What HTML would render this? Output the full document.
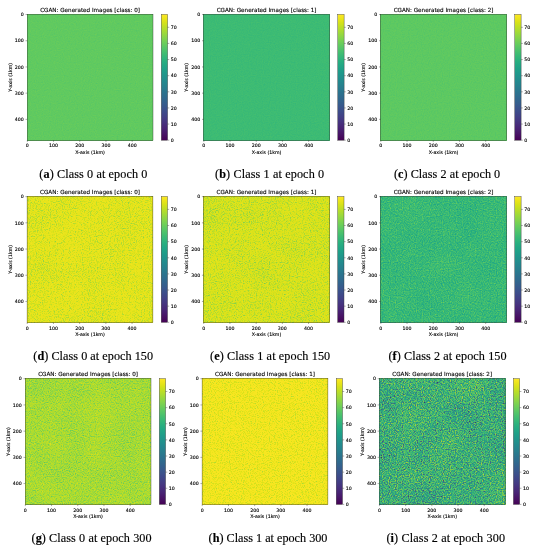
<!DOCTYPE html>
<html lang="en"><head><meta charset="utf-8"><title>CGAN generated images</title>
<style>
html,body{margin:0;padding:0;background:#fff;}
body{width:535px;height:550px;overflow:hidden;}
svg{display:block;}
.t{font-family:"DejaVu Sans","Liberation Sans",sans-serif;fill:#000;}
.t text{stroke:#000;stroke-width:0.12px;}
.ti{font-size:5.65px;text-anchor:middle;}
.tk{font-size:4.72px;}
.cap{font-family:"Liberation Serif","DejaVu Serif",serif;font-size:12.2px;fill:#000;stroke:#000;stroke-width:0.15px;}
.cap .b{font-weight:bold;}
</style></head><body>
<svg width="535" height="550" viewBox="0 0 535 550">
<defs>
<linearGradient id="vir" x1="0" y1="1" x2="0" y2="0">
<stop offset="0.0000" stop-color="#440154"/>
<stop offset="0.0312" stop-color="#470d60"/>
<stop offset="0.0625" stop-color="#48186a"/>
<stop offset="0.0938" stop-color="#482374"/>
<stop offset="0.1250" stop-color="#472d7b"/>
<stop offset="0.1562" stop-color="#453781"/>
<stop offset="0.1875" stop-color="#424086"/>
<stop offset="0.2188" stop-color="#3e4989"/>
<stop offset="0.2500" stop-color="#3b528b"/>
<stop offset="0.2812" stop-color="#375b8d"/>
<stop offset="0.3125" stop-color="#33638d"/>
<stop offset="0.3438" stop-color="#2f6b8e"/>
<stop offset="0.3750" stop-color="#2c728e"/>
<stop offset="0.4062" stop-color="#297a8e"/>
<stop offset="0.4375" stop-color="#26828e"/>
<stop offset="0.4688" stop-color="#23898e"/>
<stop offset="0.5000" stop-color="#21918c"/>
<stop offset="0.5312" stop-color="#1f988b"/>
<stop offset="0.5625" stop-color="#1fa088"/>
<stop offset="0.5938" stop-color="#22a785"/>
<stop offset="0.6250" stop-color="#28ae80"/>
<stop offset="0.6562" stop-color="#32b67a"/>
<stop offset="0.6875" stop-color="#3fbc73"/>
<stop offset="0.7188" stop-color="#4ec36b"/>
<stop offset="0.7500" stop-color="#5ec962"/>
<stop offset="0.7812" stop-color="#70cf57"/>
<stop offset="0.8125" stop-color="#84d44b"/>
<stop offset="0.8438" stop-color="#98d83e"/>
<stop offset="0.8750" stop-color="#addc30"/>
<stop offset="0.9062" stop-color="#c2df23"/>
<stop offset="0.9375" stop-color="#d8e219"/>
<stop offset="0.9688" stop-color="#ece51b"/>
<stop offset="1.0000" stop-color="#fde725"/>
</linearGradient>
<filter id="na" x="0" y="0" width="100%" height="100%" color-interpolation-filters="sRGB">
<feTurbulence type="fractalNoise" baseFrequency="0.85" numOctaves="2" seed="1"/>
<feColorMatrix type="matrix" values="1 0 0 0 0  1 0 0 0 0  1 0 0 0 0  0 0 0 0 1" result="h"/>
<feTurbulence type="fractalNoise" baseFrequency="0.035" numOctaves="2" seed="21"/>
<feColorMatrix type="matrix" values="1 0 0 0 0  1 0 0 0 0  1 0 0 0 0  0 0 0 0 1" result="l"/>
<feComposite in="h" in2="l" operator="arithmetic" k1="0" k2="1.000" k3="0.000" k4="0"/>
<feGaussianBlur stdDeviation="0.45"/>
<feComponentTransfer><feFuncA type="linear" slope="0" intercept="1"/><feFuncR type="table" tableValues="0.328 0.328 0.328 0.336 0.336 0.344 0.344 0.344 0.352 0.352 0.361 0.361 0.369 0.369 0.369 0.378 0.378 0.386 0.386 0.386 0.395 0.395 0.404 0.404 0.404 0.413 0.413 0.422 0.422 0.422 0.431 0.431 0.440"/><feFuncG type="table" tableValues="0.774 0.774 0.774 0.777 0.777 0.780 0.780 0.780 0.783 0.783 0.786 0.786 0.789 0.789 0.789 0.792 0.792 0.795 0.795 0.795 0.797 0.797 0.800 0.800 0.800 0.803 0.803 0.806 0.806 0.806 0.808 0.808 0.811"/><feFuncB type="table" tableValues="0.407 0.407 0.407 0.402 0.402 0.397 0.397 0.397 0.393 0.393 0.388 0.388 0.383 0.383 0.383 0.378 0.378 0.373 0.373 0.373 0.368 0.368 0.363 0.363 0.363 0.357 0.357 0.352 0.352 0.352 0.346 0.346 0.341"/></feComponentTransfer>
</filter>
<filter id="nb" x="0" y="0" width="100%" height="100%" color-interpolation-filters="sRGB">
<feTurbulence type="fractalNoise" baseFrequency="0.85" numOctaves="2" seed="2"/>
<feColorMatrix type="matrix" values="1 0 0 0 0  1 0 0 0 0  1 0 0 0 0  0 0 0 0 1" result="h"/>
<feTurbulence type="fractalNoise" baseFrequency="0.035" numOctaves="2" seed="22"/>
<feColorMatrix type="matrix" values="1 0 0 0 0  1 0 0 0 0  1 0 0 0 0  0 0 0 0 1" result="l"/>
<feComposite in="h" in2="l" operator="arithmetic" k1="0" k2="1.000" k3="0.000" k4="0"/>
<feGaussianBlur stdDeviation="0.45"/>
<feComponentTransfer><feFuncA type="linear" slope="0" intercept="1"/><feFuncR type="table" tableValues="0.202 0.202 0.202 0.208 0.208 0.214 0.214 0.214 0.220 0.220 0.226 0.226 0.226 0.233 0.233 0.239 0.239 0.246 0.246 0.246 0.253 0.253 0.260 0.260 0.260 0.267 0.267 0.274 0.274 0.274 0.281 0.281 0.289"/><feFuncG type="table" tableValues="0.715 0.715 0.715 0.719 0.719 0.722 0.722 0.722 0.726 0.726 0.729 0.729 0.729 0.732 0.732 0.736 0.736 0.739 0.739 0.739 0.742 0.742 0.745 0.745 0.745 0.749 0.749 0.752 0.752 0.752 0.755 0.755 0.758"/><feFuncB type="table" tableValues="0.476 0.476 0.476 0.473 0.473 0.470 0.470 0.470 0.466 0.466 0.463 0.463 0.463 0.459 0.459 0.456 0.456 0.452 0.452 0.452 0.448 0.448 0.444 0.444 0.444 0.441 0.441 0.437 0.437 0.437 0.433 0.433 0.428"/></feComponentTransfer>
</filter>
<filter id="nc" x="0" y="0" width="100%" height="100%" color-interpolation-filters="sRGB">
<feTurbulence type="fractalNoise" baseFrequency="0.85" numOctaves="2" seed="3"/>
<feColorMatrix type="matrix" values="1 0 0 0 0  1 0 0 0 0  1 0 0 0 0  0 0 0 0 1" result="h"/>
<feTurbulence type="fractalNoise" baseFrequency="0.035" numOctaves="2" seed="23"/>
<feColorMatrix type="matrix" values="1 0 0 0 0  1 0 0 0 0  1 0 0 0 0  0 0 0 0 1" result="l"/>
<feComposite in="h" in2="l" operator="arithmetic" k1="0" k2="1.000" k3="0.000" k4="0"/>
<feGaussianBlur stdDeviation="0.45"/>
<feComponentTransfer><feFuncA type="linear" slope="0" intercept="1"/><feFuncR type="table" tableValues="0.312 0.312 0.320 0.320 0.328 0.328 0.328 0.336 0.336 0.344 0.344 0.344 0.352 0.352 0.361 0.361 0.369 0.369 0.369 0.378 0.378 0.386 0.386 0.386 0.395 0.395 0.404 0.404 0.404 0.413 0.413 0.422 0.422"/><feFuncG type="table" tableValues="0.768 0.768 0.771 0.771 0.774 0.774 0.774 0.777 0.777 0.780 0.780 0.780 0.783 0.783 0.786 0.786 0.789 0.789 0.789 0.792 0.792 0.795 0.795 0.795 0.797 0.797 0.800 0.800 0.800 0.803 0.803 0.806 0.806"/><feFuncB type="table" tableValues="0.416 0.416 0.411 0.411 0.407 0.407 0.407 0.402 0.402 0.397 0.397 0.397 0.393 0.393 0.388 0.388 0.383 0.383 0.383 0.378 0.378 0.373 0.373 0.373 0.368 0.368 0.363 0.363 0.363 0.357 0.357 0.352 0.352"/></feComponentTransfer>
</filter>
<filter id="nd" x="0" y="0" width="100%" height="100%" color-interpolation-filters="sRGB">
<feTurbulence type="fractalNoise" baseFrequency="0.85" numOctaves="2" seed="4"/>
<feColorMatrix type="matrix" values="1 0 0 0 0  1 0 0 0 0  1 0 0 0 0  0 0 0 0 1" result="h"/>
<feTurbulence type="fractalNoise" baseFrequency="0.035" numOctaves="2" seed="24"/>
<feColorMatrix type="matrix" values="1 0 0 0 0  1 0 0 0 0  1 0 0 0 0  0 0 0 0 1" result="l"/>
<feComposite in="h" in2="l" operator="arithmetic" k1="0" k2="0.850" k3="0.150" k4="0"/>
<feGaussianBlur stdDeviation="0.45"/>
<feComponentTransfer><feFuncA type="linear" slope="0" intercept="1"/><feFuncR type="table" tableValues="0.402 0.423 0.447 0.473 0.501 0.525 0.555 0.588 0.621 0.656 0.691 0.728 0.764 0.801 0.838 0.873 0.908 0.908 0.915 0.915 0.922 0.929 0.929 0.935 0.942 0.942 0.949 0.949 0.955 0.955 0.955 0.955 0.955"/><feFuncG type="table" tableValues="0.767 0.779 0.791 0.802 0.813 0.821 0.831 0.840 0.849 0.856 0.864 0.870 0.876 0.881 0.886 0.891 0.895 0.895 0.896 0.896 0.897 0.898 0.898 0.898 0.899 0.899 0.900 0.900 0.901 0.901 0.901 0.901 0.901"/><feFuncB type="table" tableValues="0.370 0.358 0.345 0.330 0.315 0.301 0.283 0.263 0.242 0.220 0.197 0.174 0.150 0.128 0.111 0.103 0.109 0.109 0.112 0.112 0.115 0.119 0.119 0.123 0.127 0.127 0.132 0.132 0.137 0.137 0.137 0.137 0.137"/></feComponentTransfer>
</filter>
<filter id="ne" x="0" y="0" width="100%" height="100%" color-interpolation-filters="sRGB">
<feTurbulence type="fractalNoise" baseFrequency="0.85" numOctaves="2" seed="5"/>
<feColorMatrix type="matrix" values="1 0 0 0 0  1 0 0 0 0  1 0 0 0 0  0 0 0 0 1" result="h"/>
<feTurbulence type="fractalNoise" baseFrequency="0.035" numOctaves="2" seed="25"/>
<feColorMatrix type="matrix" values="1 0 0 0 0  1 0 0 0 0  1 0 0 0 0  0 0 0 0 1" result="l"/>
<feComposite in="h" in2="l" operator="arithmetic" k1="0" k2="0.850" k3="0.150" k4="0"/>
<feGaussianBlur stdDeviation="0.45"/>
<feComponentTransfer><feFuncA type="linear" slope="0" intercept="1"/><feFuncR type="table" tableValues="0.350 0.365 0.383 0.408 0.432 0.458 0.492 0.522 0.553 0.593 0.627 0.662 0.705 0.742 0.779 0.823 0.858 0.865 0.873 0.873 0.880 0.886 0.893 0.900 0.907 0.907 0.914 0.921 0.927 0.934 0.940 0.940 0.940"/><feFuncG type="table" tableValues="0.738 0.751 0.763 0.777 0.789 0.800 0.813 0.823 0.832 0.843 0.851 0.859 0.867 0.873 0.878 0.884 0.888 0.889 0.890 0.890 0.891 0.892 0.893 0.894 0.895 0.895 0.895 0.896 0.897 0.898 0.899 0.899 0.899"/><feFuncB type="table" tableValues="0.393 0.384 0.374 0.360 0.347 0.332 0.313 0.296 0.277 0.253 0.231 0.209 0.181 0.157 0.134 0.113 0.105 0.105 0.106 0.106 0.107 0.109 0.111 0.114 0.117 0.117 0.121 0.125 0.130 0.134 0.139 0.139 0.139"/></feComponentTransfer>
</filter>
<filter id="nf" x="0" y="0" width="100%" height="100%" color-interpolation-filters="sRGB">
<feTurbulence type="fractalNoise" baseFrequency="0.85" numOctaves="2" seed="6"/>
<feColorMatrix type="matrix" values="1 0 0 0 0  1 0 0 0 0  1 0 0 0 0  0 0 0 0 1" result="h"/>
<feTurbulence type="fractalNoise" baseFrequency="0.035" numOctaves="2" seed="26"/>
<feColorMatrix type="matrix" values="1 0 0 0 0  1 0 0 0 0  1 0 0 0 0  0 0 0 0 1" result="l"/>
<feComposite in="h" in2="l" operator="arithmetic" k1="0" k2="0.850" k3="0.150" k4="0"/>
<feGaussianBlur stdDeviation="0.45"/>
<feComponentTransfer><feFuncA type="linear" slope="0" intercept="1"/><feFuncR type="table" tableValues="0.126 0.123 0.122 0.120 0.119 0.120 0.121 0.125 0.128 0.135 0.143 0.150 0.162 0.176 0.186 0.202 0.220 0.233 0.253 0.274 0.289 0.312 0.336 0.352 0.378 0.404 0.422 0.449 0.478 0.497 0.526 0.555 0.576"/><feFuncG type="table" tableValues="0.571 0.582 0.589 0.600 0.611 0.618 0.629 0.640 0.648 0.659 0.669 0.677 0.687 0.698 0.705 0.715 0.726 0.732 0.742 0.752 0.758 0.768 0.777 0.783 0.792 0.800 0.806 0.814 0.821 0.826 0.833 0.840 0.845"/><feFuncB type="table" tableValues="0.550 0.547 0.546 0.543 0.539 0.536 0.532 0.527 0.523 0.518 0.511 0.507 0.499 0.491 0.485 0.476 0.466 0.459 0.448 0.437 0.428 0.416 0.402 0.393 0.378 0.363 0.352 0.335 0.318 0.306 0.288 0.269 0.256"/></feComponentTransfer>
</filter>
<filter id="ng" x="0" y="0" width="100%" height="100%" color-interpolation-filters="sRGB">
<feTurbulence type="fractalNoise" baseFrequency="0.85" numOctaves="2" seed="7"/>
<feColorMatrix type="matrix" values="1 0 0 0 0  1 0 0 0 0  1 0 0 0 0  0 0 0 0 1" result="h"/>
<feTurbulence type="fractalNoise" baseFrequency="0.035" numOctaves="2" seed="27"/>
<feColorMatrix type="matrix" values="1 0 0 0 0  1 0 0 0 0  1 0 0 0 0  0 0 0 0 1" result="l"/>
<feComposite in="h" in2="l" operator="arithmetic" k1="0" k2="0.850" k3="0.150" k4="0"/>
<feGaussianBlur stdDeviation="0.45"/>
<feComponentTransfer><feFuncA type="linear" slope="0" intercept="1"/><feFuncR type="table" tableValues="0.281 0.285 0.294 0.306 0.322 0.341 0.363 0.387 0.414 0.442 0.472 0.504 0.536 0.570 0.598 0.634 0.670 0.692 0.707 0.729 0.744 0.766 0.780 0.802 0.816 0.830 0.851 0.864 0.884 0.891 0.891 0.891 0.891"/><feFuncG type="table" tableValues="0.700 0.710 0.723 0.735 0.748 0.760 0.772 0.783 0.794 0.805 0.815 0.825 0.834 0.842 0.848 0.855 0.861 0.865 0.867 0.870 0.872 0.875 0.877 0.880 0.881 0.883 0.886 0.888 0.890 0.891 0.891 0.891 0.891"/><feFuncB type="table" tableValues="0.434 0.429 0.422 0.414 0.404 0.394 0.381 0.368 0.353 0.337 0.320 0.301 0.281 0.260 0.242 0.219 0.195 0.181 0.172 0.158 0.150 0.140 0.134 0.130 0.129 0.131 0.138 0.145 0.158 0.163 0.163 0.163 0.163"/></feComponentTransfer>
</filter>
<filter id="nh" x="0" y="0" width="100%" height="100%" color-interpolation-filters="sRGB">
<feTurbulence type="fractalNoise" baseFrequency="0.85" numOctaves="2" seed="8"/>
<feColorMatrix type="matrix" values="1 0 0 0 0  1 0 0 0 0  1 0 0 0 0  0 0 0 0 1" result="h"/>
<feTurbulence type="fractalNoise" baseFrequency="0.035" numOctaves="2" seed="28"/>
<feColorMatrix type="matrix" values="1 0 0 0 0  1 0 0 0 0  1 0 0 0 0  0 0 0 0 1" result="l"/>
<feComposite in="h" in2="l" operator="arithmetic" k1="0" k2="0.950" k3="0.050" k4="0"/>
<feGaussianBlur stdDeviation="0.45"/>
<feComponentTransfer><feFuncA type="linear" slope="0" intercept="1"/><feFuncR type="table" tableValues="0.538 0.561 0.583 0.615 0.639 0.663 0.687 0.721 0.746 0.771 0.804 0.829 0.854 0.879 0.911 0.935 0.958 0.966 0.966 0.966 0.973 0.973 0.981 0.981 0.981 0.981 0.981 0.981 0.981 0.981 0.981 0.981 0.981"/><feFuncG type="table" tableValues="0.829 0.835 0.841 0.848 0.854 0.859 0.863 0.869 0.873 0.877 0.882 0.885 0.888 0.891 0.895 0.898 0.901 0.902 0.902 0.902 0.903 0.903 0.905 0.905 0.905 0.905 0.905 0.905 0.905 0.905 0.905 0.905 0.905"/><feFuncB type="table" tableValues="0.297 0.283 0.269 0.250 0.234 0.219 0.203 0.181 0.165 0.149 0.129 0.116 0.106 0.101 0.103 0.111 0.123 0.128 0.128 0.128 0.134 0.134 0.139 0.139 0.139 0.139 0.139 0.139 0.139 0.139 0.139 0.139 0.139"/></feComponentTransfer>
</filter>
<filter id="ni" x="0" y="0" width="100%" height="100%" color-interpolation-filters="sRGB">
<feTurbulence type="fractalNoise" baseFrequency="0.85" numOctaves="2" seed="9"/>
<feColorMatrix type="matrix" values="1 0 0 0 0  1 0 0 0 0  1 0 0 0 0  0 0 0 0 1" result="h"/>
<feTurbulence type="fractalNoise" baseFrequency="0.035" numOctaves="2" seed="29"/>
<feColorMatrix type="matrix" values="1 0 0 0 0  1 0 0 0 0  1 0 0 0 0  0 0 0 0 1" result="l"/>
<feComposite in="h" in2="l" operator="arithmetic" k1="0" k2="0.850" k3="0.150" k4="0"/>
<feGaussianBlur stdDeviation="0.45"/>
<feComponentTransfer><feFuncA type="linear" slope="0" intercept="1"/><feFuncR type="table" tableValues="0.266 0.266 0.266 0.266 0.266 0.266 0.271 0.277 0.269 0.252 0.230 0.211 0.193 0.177 0.166 0.178 0.226 0.261 0.307 0.353 0.403 0.455 0.511 0.574 0.631 0.687 0.741 0.760 0.760 0.760 0.760 0.760 0.760"/><feFuncG type="table" tableValues="0.219 0.219 0.219 0.219 0.219 0.219 0.242 0.301 0.358 0.408 0.458 0.500 0.544 0.584 0.624 0.666 0.705 0.723 0.742 0.758 0.773 0.786 0.797 0.808 0.816 0.823 0.829 0.832 0.832 0.832 0.832 0.832 0.832"/><feFuncB type="table" tableValues="0.370 0.370 0.370 0.370 0.370 0.370 0.394 0.448 0.489 0.510 0.521 0.524 0.525 0.523 0.515 0.496 0.467 0.448 0.422 0.396 0.366 0.333 0.298 0.256 0.224 0.211 0.230 0.244 0.244 0.244 0.244 0.244 0.244"/></feComponentTransfer>
</filter>
</defs>
<g class="t">
<rect x="27.20" y="14.40" width="125.8" height="125.8" fill="#61ca60"/>
<rect x="27.20" y="14.40" width="125.8" height="125.8" filter="url(#na)"/>
<rect x="27.20" y="14.40" width="125.8" height="125.8" fill="none" stroke="#333" stroke-width="0.4"/>
<text class="ti" x="90.10" y="11.50">CGAN: Generated Images [class: 0]</text>
<line x1="27.33" y1="140.20" x2="27.33" y2="141.90" stroke="#333" stroke-width="0.4"/>
<text class="tk" text-anchor="middle" x="27.33" y="147.40">0</text>
<line x1="25.50" y1="14.53" x2="27.20" y2="14.53" stroke="#333" stroke-width="0.4"/>
<text class="tk" text-anchor="end" x="23.80" y="16.28">0</text>
<line x1="53.54" y1="140.20" x2="53.54" y2="141.90" stroke="#333" stroke-width="0.4"/>
<text class="tk" text-anchor="middle" x="53.54" y="147.40">100</text>
<line x1="25.50" y1="40.74" x2="27.20" y2="40.74" stroke="#333" stroke-width="0.4"/>
<text class="tk" text-anchor="end" x="23.80" y="42.49">100</text>
<line x1="79.75" y1="140.20" x2="79.75" y2="141.90" stroke="#333" stroke-width="0.4"/>
<text class="tk" text-anchor="middle" x="79.75" y="147.40">200</text>
<line x1="25.50" y1="66.95" x2="27.20" y2="66.95" stroke="#333" stroke-width="0.4"/>
<text class="tk" text-anchor="end" x="23.80" y="68.70">200</text>
<line x1="105.96" y1="140.20" x2="105.96" y2="141.90" stroke="#333" stroke-width="0.4"/>
<text class="tk" text-anchor="middle" x="105.96" y="147.40">300</text>
<line x1="25.50" y1="93.16" x2="27.20" y2="93.16" stroke="#333" stroke-width="0.4"/>
<text class="tk" text-anchor="end" x="23.80" y="94.91">300</text>
<line x1="132.16" y1="140.20" x2="132.16" y2="141.90" stroke="#333" stroke-width="0.4"/>
<text class="tk" text-anchor="middle" x="132.16" y="147.40">400</text>
<line x1="25.50" y1="119.36" x2="27.20" y2="119.36" stroke="#333" stroke-width="0.4"/>
<text class="tk" text-anchor="end" x="23.80" y="121.11">400</text>
<text class="tk" text-anchor="middle" x="90.10" y="153.80">X-axis (1km)</text>
<text class="tk" text-anchor="middle" transform="translate(11.60,77.30) rotate(-90)">Y-axis (1km)</text>
<rect x="161.30" y="14.40" width="6.3" height="125.8" fill="url(#vir)" stroke="#333" stroke-width="0.4"/>
<line x1="167.60" y1="140.20" x2="169.30" y2="140.20" stroke="#333" stroke-width="0.4"/>
<text class="tk" x="170.80" y="141.95">0</text>
<line x1="167.60" y1="124.07" x2="169.30" y2="124.07" stroke="#333" stroke-width="0.4"/>
<text class="tk" x="170.80" y="125.82">10</text>
<line x1="167.60" y1="107.94" x2="169.30" y2="107.94" stroke="#333" stroke-width="0.4"/>
<text class="tk" x="170.80" y="109.69">20</text>
<line x1="167.60" y1="91.82" x2="169.30" y2="91.82" stroke="#333" stroke-width="0.4"/>
<text class="tk" x="170.80" y="93.57">30</text>
<line x1="167.60" y1="75.69" x2="169.30" y2="75.69" stroke="#333" stroke-width="0.4"/>
<text class="tk" x="170.80" y="77.44">40</text>
<line x1="167.60" y1="59.56" x2="169.30" y2="59.56" stroke="#333" stroke-width="0.4"/>
<text class="tk" x="170.80" y="61.31">50</text>
<line x1="167.60" y1="43.43" x2="169.30" y2="43.43" stroke="#333" stroke-width="0.4"/>
<text class="tk" x="170.80" y="45.18">60</text>
<line x1="167.60" y1="27.30" x2="169.30" y2="27.30" stroke="#333" stroke-width="0.4"/>
<text class="tk" x="170.80" y="29.05">70</text>
</g>
<text class="cap" x="39.30" y="177.60" textLength="108.1" lengthAdjust="spacing">(<tspan class="b">a</tspan>) Class 0 at epoch 0</text>
<g class="t">
<rect x="203.70" y="14.40" width="125.8" height="125.8" fill="#3dbc74"/>
<rect x="203.70" y="14.40" width="125.8" height="125.8" filter="url(#nb)"/>
<rect x="203.70" y="14.40" width="125.8" height="125.8" fill="none" stroke="#333" stroke-width="0.4"/>
<text class="ti" x="266.60" y="11.50">CGAN: Generated Images [class: 1]</text>
<line x1="203.83" y1="140.20" x2="203.83" y2="141.90" stroke="#333" stroke-width="0.4"/>
<text class="tk" text-anchor="middle" x="203.83" y="147.40">0</text>
<line x1="202.00" y1="14.53" x2="203.70" y2="14.53" stroke="#333" stroke-width="0.4"/>
<text class="tk" text-anchor="end" x="200.30" y="16.28">0</text>
<line x1="230.04" y1="140.20" x2="230.04" y2="141.90" stroke="#333" stroke-width="0.4"/>
<text class="tk" text-anchor="middle" x="230.04" y="147.40">100</text>
<line x1="202.00" y1="40.74" x2="203.70" y2="40.74" stroke="#333" stroke-width="0.4"/>
<text class="tk" text-anchor="end" x="200.30" y="42.49">100</text>
<line x1="256.25" y1="140.20" x2="256.25" y2="141.90" stroke="#333" stroke-width="0.4"/>
<text class="tk" text-anchor="middle" x="256.25" y="147.40">200</text>
<line x1="202.00" y1="66.95" x2="203.70" y2="66.95" stroke="#333" stroke-width="0.4"/>
<text class="tk" text-anchor="end" x="200.30" y="68.70">200</text>
<line x1="282.46" y1="140.20" x2="282.46" y2="141.90" stroke="#333" stroke-width="0.4"/>
<text class="tk" text-anchor="middle" x="282.46" y="147.40">300</text>
<line x1="202.00" y1="93.16" x2="203.70" y2="93.16" stroke="#333" stroke-width="0.4"/>
<text class="tk" text-anchor="end" x="200.30" y="94.91">300</text>
<line x1="308.66" y1="140.20" x2="308.66" y2="141.90" stroke="#333" stroke-width="0.4"/>
<text class="tk" text-anchor="middle" x="308.66" y="147.40">400</text>
<line x1="202.00" y1="119.36" x2="203.70" y2="119.36" stroke="#333" stroke-width="0.4"/>
<text class="tk" text-anchor="end" x="200.30" y="121.11">400</text>
<text class="tk" text-anchor="middle" x="266.60" y="153.80">X-axis (1km)</text>
<text class="tk" text-anchor="middle" transform="translate(188.10,77.30) rotate(-90)">Y-axis (1km)</text>
<rect x="337.80" y="14.40" width="6.3" height="125.8" fill="url(#vir)" stroke="#333" stroke-width="0.4"/>
<line x1="344.10" y1="140.20" x2="345.80" y2="140.20" stroke="#333" stroke-width="0.4"/>
<text class="tk" x="347.30" y="141.95">0</text>
<line x1="344.10" y1="124.07" x2="345.80" y2="124.07" stroke="#333" stroke-width="0.4"/>
<text class="tk" x="347.30" y="125.82">10</text>
<line x1="344.10" y1="107.94" x2="345.80" y2="107.94" stroke="#333" stroke-width="0.4"/>
<text class="tk" x="347.30" y="109.69">20</text>
<line x1="344.10" y1="91.82" x2="345.80" y2="91.82" stroke="#333" stroke-width="0.4"/>
<text class="tk" x="347.30" y="93.57">30</text>
<line x1="344.10" y1="75.69" x2="345.80" y2="75.69" stroke="#333" stroke-width="0.4"/>
<text class="tk" x="347.30" y="77.44">40</text>
<line x1="344.10" y1="59.56" x2="345.80" y2="59.56" stroke="#333" stroke-width="0.4"/>
<text class="tk" x="347.30" y="61.31">50</text>
<line x1="344.10" y1="43.43" x2="345.80" y2="43.43" stroke="#333" stroke-width="0.4"/>
<text class="tk" x="347.30" y="45.18">60</text>
<line x1="344.10" y1="27.30" x2="345.80" y2="27.30" stroke="#333" stroke-width="0.4"/>
<text class="tk" x="347.30" y="29.05">70</text>
</g>
<text class="cap" x="215.00" y="177.60" textLength="109.1" lengthAdjust="spacing">(<tspan class="b">b</tspan>) Class 1 at epoch 0</text>
<g class="t">
<rect x="380.70" y="14.40" width="125.8" height="125.8" fill="#5dc962"/>
<rect x="380.70" y="14.40" width="125.8" height="125.8" filter="url(#nc)"/>
<rect x="380.70" y="14.40" width="125.8" height="125.8" fill="none" stroke="#333" stroke-width="0.4"/>
<text class="ti" x="443.60" y="11.50">CGAN: Generated Images [class: 2]</text>
<line x1="380.83" y1="140.20" x2="380.83" y2="141.90" stroke="#333" stroke-width="0.4"/>
<text class="tk" text-anchor="middle" x="380.83" y="147.40">0</text>
<line x1="379.00" y1="14.53" x2="380.70" y2="14.53" stroke="#333" stroke-width="0.4"/>
<text class="tk" text-anchor="end" x="377.30" y="16.28">0</text>
<line x1="407.04" y1="140.20" x2="407.04" y2="141.90" stroke="#333" stroke-width="0.4"/>
<text class="tk" text-anchor="middle" x="407.04" y="147.40">100</text>
<line x1="379.00" y1="40.74" x2="380.70" y2="40.74" stroke="#333" stroke-width="0.4"/>
<text class="tk" text-anchor="end" x="377.30" y="42.49">100</text>
<line x1="433.25" y1="140.20" x2="433.25" y2="141.90" stroke="#333" stroke-width="0.4"/>
<text class="tk" text-anchor="middle" x="433.25" y="147.40">200</text>
<line x1="379.00" y1="66.95" x2="380.70" y2="66.95" stroke="#333" stroke-width="0.4"/>
<text class="tk" text-anchor="end" x="377.30" y="68.70">200</text>
<line x1="459.46" y1="140.20" x2="459.46" y2="141.90" stroke="#333" stroke-width="0.4"/>
<text class="tk" text-anchor="middle" x="459.46" y="147.40">300</text>
<line x1="379.00" y1="93.16" x2="380.70" y2="93.16" stroke="#333" stroke-width="0.4"/>
<text class="tk" text-anchor="end" x="377.30" y="94.91">300</text>
<line x1="485.66" y1="140.20" x2="485.66" y2="141.90" stroke="#333" stroke-width="0.4"/>
<text class="tk" text-anchor="middle" x="485.66" y="147.40">400</text>
<line x1="379.00" y1="119.36" x2="380.70" y2="119.36" stroke="#333" stroke-width="0.4"/>
<text class="tk" text-anchor="end" x="377.30" y="121.11">400</text>
<text class="tk" text-anchor="middle" x="443.60" y="153.80">X-axis (1km)</text>
<text class="tk" text-anchor="middle" transform="translate(365.10,77.30) rotate(-90)">Y-axis (1km)</text>
<rect x="514.80" y="14.40" width="6.3" height="125.8" fill="url(#vir)" stroke="#333" stroke-width="0.4"/>
<line x1="521.10" y1="140.20" x2="522.80" y2="140.20" stroke="#333" stroke-width="0.4"/>
<text class="tk" x="524.30" y="141.95">0</text>
<line x1="521.10" y1="124.07" x2="522.80" y2="124.07" stroke="#333" stroke-width="0.4"/>
<text class="tk" x="524.30" y="125.82">10</text>
<line x1="521.10" y1="107.94" x2="522.80" y2="107.94" stroke="#333" stroke-width="0.4"/>
<text class="tk" x="524.30" y="109.69">20</text>
<line x1="521.10" y1="91.82" x2="522.80" y2="91.82" stroke="#333" stroke-width="0.4"/>
<text class="tk" x="524.30" y="93.57">30</text>
<line x1="521.10" y1="75.69" x2="522.80" y2="75.69" stroke="#333" stroke-width="0.4"/>
<text class="tk" x="524.30" y="77.44">40</text>
<line x1="521.10" y1="59.56" x2="522.80" y2="59.56" stroke="#333" stroke-width="0.4"/>
<text class="tk" x="524.30" y="61.31">50</text>
<line x1="521.10" y1="43.43" x2="522.80" y2="43.43" stroke="#333" stroke-width="0.4"/>
<text class="tk" x="524.30" y="45.18">60</text>
<line x1="521.10" y1="27.30" x2="522.80" y2="27.30" stroke="#333" stroke-width="0.4"/>
<text class="tk" x="524.30" y="29.05">70</text>
</g>
<text class="cap" x="393.90" y="177.60" textLength="106.3" lengthAdjust="spacing">(<tspan class="b">c</tspan>) Class 2 at epoch 0</text>
<g class="t">
<rect x="27.10" y="196.50" width="125.8" height="125.8" fill="#dde31f"/>
<rect x="27.10" y="196.50" width="125.8" height="125.8" filter="url(#nd)"/>
<rect x="27.10" y="196.50" width="125.8" height="125.8" fill="none" stroke="#333" stroke-width="0.4"/>
<text class="ti" x="90.00" y="193.60">CGAN: Generated Images [class: 0]</text>
<line x1="27.23" y1="322.30" x2="27.23" y2="324.00" stroke="#333" stroke-width="0.4"/>
<text class="tk" text-anchor="middle" x="27.23" y="329.50">0</text>
<line x1="25.40" y1="196.63" x2="27.10" y2="196.63" stroke="#333" stroke-width="0.4"/>
<text class="tk" text-anchor="end" x="23.70" y="198.38">0</text>
<line x1="53.44" y1="322.30" x2="53.44" y2="324.00" stroke="#333" stroke-width="0.4"/>
<text class="tk" text-anchor="middle" x="53.44" y="329.50">100</text>
<line x1="25.40" y1="222.84" x2="27.10" y2="222.84" stroke="#333" stroke-width="0.4"/>
<text class="tk" text-anchor="end" x="23.70" y="224.59">100</text>
<line x1="79.65" y1="322.30" x2="79.65" y2="324.00" stroke="#333" stroke-width="0.4"/>
<text class="tk" text-anchor="middle" x="79.65" y="329.50">200</text>
<line x1="25.40" y1="249.05" x2="27.10" y2="249.05" stroke="#333" stroke-width="0.4"/>
<text class="tk" text-anchor="end" x="23.70" y="250.80">200</text>
<line x1="105.86" y1="322.30" x2="105.86" y2="324.00" stroke="#333" stroke-width="0.4"/>
<text class="tk" text-anchor="middle" x="105.86" y="329.50">300</text>
<line x1="25.40" y1="275.26" x2="27.10" y2="275.26" stroke="#333" stroke-width="0.4"/>
<text class="tk" text-anchor="end" x="23.70" y="277.01">300</text>
<line x1="132.06" y1="322.30" x2="132.06" y2="324.00" stroke="#333" stroke-width="0.4"/>
<text class="tk" text-anchor="middle" x="132.06" y="329.50">400</text>
<line x1="25.40" y1="301.46" x2="27.10" y2="301.46" stroke="#333" stroke-width="0.4"/>
<text class="tk" text-anchor="end" x="23.70" y="303.21">400</text>
<text class="tk" text-anchor="middle" x="90.00" y="335.90">X-axis (1km)</text>
<text class="tk" text-anchor="middle" transform="translate(11.50,259.40) rotate(-90)">Y-axis (1km)</text>
<rect x="161.20" y="196.50" width="6.3" height="125.8" fill="url(#vir)" stroke="#333" stroke-width="0.4"/>
<line x1="167.50" y1="322.30" x2="169.20" y2="322.30" stroke="#333" stroke-width="0.4"/>
<text class="tk" x="170.70" y="324.05">0</text>
<line x1="167.50" y1="306.17" x2="169.20" y2="306.17" stroke="#333" stroke-width="0.4"/>
<text class="tk" x="170.70" y="307.92">10</text>
<line x1="167.50" y1="290.04" x2="169.20" y2="290.04" stroke="#333" stroke-width="0.4"/>
<text class="tk" x="170.70" y="291.79">20</text>
<line x1="167.50" y1="273.92" x2="169.20" y2="273.92" stroke="#333" stroke-width="0.4"/>
<text class="tk" x="170.70" y="275.67">30</text>
<line x1="167.50" y1="257.79" x2="169.20" y2="257.79" stroke="#333" stroke-width="0.4"/>
<text class="tk" x="170.70" y="259.54">40</text>
<line x1="167.50" y1="241.66" x2="169.20" y2="241.66" stroke="#333" stroke-width="0.4"/>
<text class="tk" x="170.70" y="243.41">50</text>
<line x1="167.50" y1="225.53" x2="169.20" y2="225.53" stroke="#333" stroke-width="0.4"/>
<text class="tk" x="170.70" y="227.28">60</text>
<line x1="167.50" y1="209.40" x2="169.20" y2="209.40" stroke="#333" stroke-width="0.4"/>
<text class="tk" x="170.70" y="211.15">70</text>
</g>
<text class="cap" x="33.30" y="359.70" textLength="119.8" lengthAdjust="spacing">(<tspan class="b">d</tspan>) Class 0 at epoch 150</text>
<g class="t">
<rect x="203.60" y="196.50" width="125.8" height="125.8" fill="#d0e121"/>
<rect x="203.60" y="196.50" width="125.8" height="125.8" filter="url(#ne)"/>
<rect x="203.60" y="196.50" width="125.8" height="125.8" fill="none" stroke="#333" stroke-width="0.4"/>
<text class="ti" x="266.50" y="193.60">CGAN: Generated Images [class: 1]</text>
<line x1="203.73" y1="322.30" x2="203.73" y2="324.00" stroke="#333" stroke-width="0.4"/>
<text class="tk" text-anchor="middle" x="203.73" y="329.50">0</text>
<line x1="201.90" y1="196.63" x2="203.60" y2="196.63" stroke="#333" stroke-width="0.4"/>
<text class="tk" text-anchor="end" x="200.20" y="198.38">0</text>
<line x1="229.94" y1="322.30" x2="229.94" y2="324.00" stroke="#333" stroke-width="0.4"/>
<text class="tk" text-anchor="middle" x="229.94" y="329.50">100</text>
<line x1="201.90" y1="222.84" x2="203.60" y2="222.84" stroke="#333" stroke-width="0.4"/>
<text class="tk" text-anchor="end" x="200.20" y="224.59">100</text>
<line x1="256.15" y1="322.30" x2="256.15" y2="324.00" stroke="#333" stroke-width="0.4"/>
<text class="tk" text-anchor="middle" x="256.15" y="329.50">200</text>
<line x1="201.90" y1="249.05" x2="203.60" y2="249.05" stroke="#333" stroke-width="0.4"/>
<text class="tk" text-anchor="end" x="200.20" y="250.80">200</text>
<line x1="282.36" y1="322.30" x2="282.36" y2="324.00" stroke="#333" stroke-width="0.4"/>
<text class="tk" text-anchor="middle" x="282.36" y="329.50">300</text>
<line x1="201.90" y1="275.26" x2="203.60" y2="275.26" stroke="#333" stroke-width="0.4"/>
<text class="tk" text-anchor="end" x="200.20" y="277.01">300</text>
<line x1="308.56" y1="322.30" x2="308.56" y2="324.00" stroke="#333" stroke-width="0.4"/>
<text class="tk" text-anchor="middle" x="308.56" y="329.50">400</text>
<line x1="201.90" y1="301.46" x2="203.60" y2="301.46" stroke="#333" stroke-width="0.4"/>
<text class="tk" text-anchor="end" x="200.20" y="303.21">400</text>
<text class="tk" text-anchor="middle" x="266.50" y="335.90">X-axis (1km)</text>
<text class="tk" text-anchor="middle" transform="translate(188.00,259.40) rotate(-90)">Y-axis (1km)</text>
<rect x="337.70" y="196.50" width="6.3" height="125.8" fill="url(#vir)" stroke="#333" stroke-width="0.4"/>
<line x1="344.00" y1="322.30" x2="345.70" y2="322.30" stroke="#333" stroke-width="0.4"/>
<text class="tk" x="347.20" y="324.05">0</text>
<line x1="344.00" y1="306.17" x2="345.70" y2="306.17" stroke="#333" stroke-width="0.4"/>
<text class="tk" x="347.20" y="307.92">10</text>
<line x1="344.00" y1="290.04" x2="345.70" y2="290.04" stroke="#333" stroke-width="0.4"/>
<text class="tk" x="347.20" y="291.79">20</text>
<line x1="344.00" y1="273.92" x2="345.70" y2="273.92" stroke="#333" stroke-width="0.4"/>
<text class="tk" x="347.20" y="275.67">30</text>
<line x1="344.00" y1="257.79" x2="345.70" y2="257.79" stroke="#333" stroke-width="0.4"/>
<text class="tk" x="347.20" y="259.54">40</text>
<line x1="344.00" y1="241.66" x2="345.70" y2="241.66" stroke="#333" stroke-width="0.4"/>
<text class="tk" x="347.20" y="243.41">50</text>
<line x1="344.00" y1="225.53" x2="345.70" y2="225.53" stroke="#333" stroke-width="0.4"/>
<text class="tk" x="347.20" y="227.28">60</text>
<line x1="344.00" y1="209.40" x2="345.70" y2="209.40" stroke="#333" stroke-width="0.4"/>
<text class="tk" x="347.20" y="211.15">70</text>
</g>
<text class="cap" x="210.00" y="359.70" textLength="120.2" lengthAdjust="spacing">(<tspan class="b">e</tspan>) Class 1 at epoch 150</text>
<g class="t">
<rect x="380.70" y="196.50" width="125.8" height="125.8" fill="#39b976"/>
<rect x="380.70" y="196.50" width="125.8" height="125.8" filter="url(#nf)"/>
<rect x="380.70" y="196.50" width="125.8" height="125.8" fill="none" stroke="#333" stroke-width="0.4"/>
<text class="ti" x="443.60" y="193.60">CGAN: Generated Images [class: 2]</text>
<line x1="380.83" y1="322.30" x2="380.83" y2="324.00" stroke="#333" stroke-width="0.4"/>
<text class="tk" text-anchor="middle" x="380.83" y="329.50">0</text>
<line x1="379.00" y1="196.63" x2="380.70" y2="196.63" stroke="#333" stroke-width="0.4"/>
<text class="tk" text-anchor="end" x="377.30" y="198.38">0</text>
<line x1="407.04" y1="322.30" x2="407.04" y2="324.00" stroke="#333" stroke-width="0.4"/>
<text class="tk" text-anchor="middle" x="407.04" y="329.50">100</text>
<line x1="379.00" y1="222.84" x2="380.70" y2="222.84" stroke="#333" stroke-width="0.4"/>
<text class="tk" text-anchor="end" x="377.30" y="224.59">100</text>
<line x1="433.25" y1="322.30" x2="433.25" y2="324.00" stroke="#333" stroke-width="0.4"/>
<text class="tk" text-anchor="middle" x="433.25" y="329.50">200</text>
<line x1="379.00" y1="249.05" x2="380.70" y2="249.05" stroke="#333" stroke-width="0.4"/>
<text class="tk" text-anchor="end" x="377.30" y="250.80">200</text>
<line x1="459.46" y1="322.30" x2="459.46" y2="324.00" stroke="#333" stroke-width="0.4"/>
<text class="tk" text-anchor="middle" x="459.46" y="329.50">300</text>
<line x1="379.00" y1="275.26" x2="380.70" y2="275.26" stroke="#333" stroke-width="0.4"/>
<text class="tk" text-anchor="end" x="377.30" y="277.01">300</text>
<line x1="485.66" y1="322.30" x2="485.66" y2="324.00" stroke="#333" stroke-width="0.4"/>
<text class="tk" text-anchor="middle" x="485.66" y="329.50">400</text>
<line x1="379.00" y1="301.46" x2="380.70" y2="301.46" stroke="#333" stroke-width="0.4"/>
<text class="tk" text-anchor="end" x="377.30" y="303.21">400</text>
<text class="tk" text-anchor="middle" x="443.60" y="335.90">X-axis (1km)</text>
<text class="tk" text-anchor="middle" transform="translate(365.10,259.40) rotate(-90)">Y-axis (1km)</text>
<rect x="514.80" y="196.50" width="6.3" height="125.8" fill="url(#vir)" stroke="#333" stroke-width="0.4"/>
<line x1="521.10" y1="322.30" x2="522.80" y2="322.30" stroke="#333" stroke-width="0.4"/>
<text class="tk" x="524.30" y="324.05">0</text>
<line x1="521.10" y1="306.17" x2="522.80" y2="306.17" stroke="#333" stroke-width="0.4"/>
<text class="tk" x="524.30" y="307.92">10</text>
<line x1="521.10" y1="290.04" x2="522.80" y2="290.04" stroke="#333" stroke-width="0.4"/>
<text class="tk" x="524.30" y="291.79">20</text>
<line x1="521.10" y1="273.92" x2="522.80" y2="273.92" stroke="#333" stroke-width="0.4"/>
<text class="tk" x="524.30" y="275.67">30</text>
<line x1="521.10" y1="257.79" x2="522.80" y2="257.79" stroke="#333" stroke-width="0.4"/>
<text class="tk" x="524.30" y="259.54">40</text>
<line x1="521.10" y1="241.66" x2="522.80" y2="241.66" stroke="#333" stroke-width="0.4"/>
<text class="tk" x="524.30" y="243.41">50</text>
<line x1="521.10" y1="225.53" x2="522.80" y2="225.53" stroke="#333" stroke-width="0.4"/>
<text class="tk" x="524.30" y="227.28">60</text>
<line x1="521.10" y1="209.40" x2="522.80" y2="209.40" stroke="#333" stroke-width="0.4"/>
<text class="tk" x="524.30" y="211.15">70</text>
</g>
<text class="cap" x="388.40" y="359.70" textLength="118.2" lengthAdjust="spacing">(<tspan class="b">f</tspan>) Class 2 at epoch 150</text>
<g class="t">
<rect x="25.20" y="378.60" width="125.8" height="125.8" fill="#a6da35"/>
<rect x="25.20" y="378.60" width="125.8" height="125.8" filter="url(#ng)"/>
<rect x="25.20" y="378.60" width="125.8" height="125.8" fill="none" stroke="#333" stroke-width="0.4"/>
<text class="ti" x="88.10" y="375.70">CGAN: Generated Images [class: 0]</text>
<line x1="25.33" y1="504.40" x2="25.33" y2="506.10" stroke="#333" stroke-width="0.4"/>
<text class="tk" text-anchor="middle" x="25.33" y="511.60">0</text>
<line x1="23.50" y1="378.73" x2="25.20" y2="378.73" stroke="#333" stroke-width="0.4"/>
<text class="tk" text-anchor="end" x="21.80" y="380.48">0</text>
<line x1="51.54" y1="504.40" x2="51.54" y2="506.10" stroke="#333" stroke-width="0.4"/>
<text class="tk" text-anchor="middle" x="51.54" y="511.60">100</text>
<line x1="23.50" y1="404.94" x2="25.20" y2="404.94" stroke="#333" stroke-width="0.4"/>
<text class="tk" text-anchor="end" x="21.80" y="406.69">100</text>
<line x1="77.75" y1="504.40" x2="77.75" y2="506.10" stroke="#333" stroke-width="0.4"/>
<text class="tk" text-anchor="middle" x="77.75" y="511.60">200</text>
<line x1="23.50" y1="431.15" x2="25.20" y2="431.15" stroke="#333" stroke-width="0.4"/>
<text class="tk" text-anchor="end" x="21.80" y="432.90">200</text>
<line x1="103.96" y1="504.40" x2="103.96" y2="506.10" stroke="#333" stroke-width="0.4"/>
<text class="tk" text-anchor="middle" x="103.96" y="511.60">300</text>
<line x1="23.50" y1="457.36" x2="25.20" y2="457.36" stroke="#333" stroke-width="0.4"/>
<text class="tk" text-anchor="end" x="21.80" y="459.11">300</text>
<line x1="130.16" y1="504.40" x2="130.16" y2="506.10" stroke="#333" stroke-width="0.4"/>
<text class="tk" text-anchor="middle" x="130.16" y="511.60">400</text>
<line x1="23.50" y1="483.56" x2="25.20" y2="483.56" stroke="#333" stroke-width="0.4"/>
<text class="tk" text-anchor="end" x="21.80" y="485.31">400</text>
<text class="tk" text-anchor="middle" x="88.10" y="518.00">X-axis (1km)</text>
<text class="tk" text-anchor="middle" transform="translate(9.60,441.50) rotate(-90)">Y-axis (1km)</text>
<rect x="159.30" y="378.60" width="6.3" height="125.8" fill="url(#vir)" stroke="#333" stroke-width="0.4"/>
<line x1="165.60" y1="504.40" x2="167.30" y2="504.40" stroke="#333" stroke-width="0.4"/>
<text class="tk" x="168.80" y="506.15">0</text>
<line x1="165.60" y1="488.27" x2="167.30" y2="488.27" stroke="#333" stroke-width="0.4"/>
<text class="tk" x="168.80" y="490.02">10</text>
<line x1="165.60" y1="472.14" x2="167.30" y2="472.14" stroke="#333" stroke-width="0.4"/>
<text class="tk" x="168.80" y="473.89">20</text>
<line x1="165.60" y1="456.02" x2="167.30" y2="456.02" stroke="#333" stroke-width="0.4"/>
<text class="tk" x="168.80" y="457.77">30</text>
<line x1="165.60" y1="439.89" x2="167.30" y2="439.89" stroke="#333" stroke-width="0.4"/>
<text class="tk" x="168.80" y="441.64">40</text>
<line x1="165.60" y1="423.76" x2="167.30" y2="423.76" stroke="#333" stroke-width="0.4"/>
<text class="tk" x="168.80" y="425.51">50</text>
<line x1="165.60" y1="407.63" x2="167.30" y2="407.63" stroke="#333" stroke-width="0.4"/>
<text class="tk" x="168.80" y="409.38">60</text>
<line x1="165.60" y1="391.50" x2="167.30" y2="391.50" stroke="#333" stroke-width="0.4"/>
<text class="tk" x="168.80" y="393.25">70</text>
</g>
<text class="cap" x="31.50" y="542.00" textLength="120.1" lengthAdjust="spacing">(<tspan class="b">g</tspan>) Class 0 at epoch 300</text>
<g class="t">
<rect x="202.10" y="378.60" width="125.8" height="125.8" fill="#ede51f"/>
<rect x="202.10" y="378.60" width="125.8" height="125.8" filter="url(#nh)"/>
<rect x="202.10" y="378.60" width="125.8" height="125.8" fill="none" stroke="#333" stroke-width="0.4"/>
<text class="ti" x="265.00" y="375.70">CGAN: Generated Images [class: 1]</text>
<line x1="202.23" y1="504.40" x2="202.23" y2="506.10" stroke="#333" stroke-width="0.4"/>
<text class="tk" text-anchor="middle" x="202.23" y="511.60">0</text>
<line x1="200.40" y1="378.73" x2="202.10" y2="378.73" stroke="#333" stroke-width="0.4"/>
<text class="tk" text-anchor="end" x="198.70" y="380.48">0</text>
<line x1="228.44" y1="504.40" x2="228.44" y2="506.10" stroke="#333" stroke-width="0.4"/>
<text class="tk" text-anchor="middle" x="228.44" y="511.60">100</text>
<line x1="200.40" y1="404.94" x2="202.10" y2="404.94" stroke="#333" stroke-width="0.4"/>
<text class="tk" text-anchor="end" x="198.70" y="406.69">100</text>
<line x1="254.65" y1="504.40" x2="254.65" y2="506.10" stroke="#333" stroke-width="0.4"/>
<text class="tk" text-anchor="middle" x="254.65" y="511.60">200</text>
<line x1="200.40" y1="431.15" x2="202.10" y2="431.15" stroke="#333" stroke-width="0.4"/>
<text class="tk" text-anchor="end" x="198.70" y="432.90">200</text>
<line x1="280.86" y1="504.40" x2="280.86" y2="506.10" stroke="#333" stroke-width="0.4"/>
<text class="tk" text-anchor="middle" x="280.86" y="511.60">300</text>
<line x1="200.40" y1="457.36" x2="202.10" y2="457.36" stroke="#333" stroke-width="0.4"/>
<text class="tk" text-anchor="end" x="198.70" y="459.11">300</text>
<line x1="307.06" y1="504.40" x2="307.06" y2="506.10" stroke="#333" stroke-width="0.4"/>
<text class="tk" text-anchor="middle" x="307.06" y="511.60">400</text>
<line x1="200.40" y1="483.56" x2="202.10" y2="483.56" stroke="#333" stroke-width="0.4"/>
<text class="tk" text-anchor="end" x="198.70" y="485.31">400</text>
<text class="tk" text-anchor="middle" x="265.00" y="518.00">X-axis (1km)</text>
<text class="tk" text-anchor="middle" transform="translate(186.50,441.50) rotate(-90)">Y-axis (1km)</text>
<rect x="336.20" y="378.60" width="6.3" height="125.8" fill="url(#vir)" stroke="#333" stroke-width="0.4"/>
<line x1="342.50" y1="504.40" x2="344.20" y2="504.40" stroke="#333" stroke-width="0.4"/>
<text class="tk" x="345.70" y="506.15">0</text>
<line x1="342.50" y1="488.27" x2="344.20" y2="488.27" stroke="#333" stroke-width="0.4"/>
<text class="tk" x="345.70" y="490.02">10</text>
<line x1="342.50" y1="472.14" x2="344.20" y2="472.14" stroke="#333" stroke-width="0.4"/>
<text class="tk" x="345.70" y="473.89">20</text>
<line x1="342.50" y1="456.02" x2="344.20" y2="456.02" stroke="#333" stroke-width="0.4"/>
<text class="tk" x="345.70" y="457.77">30</text>
<line x1="342.50" y1="439.89" x2="344.20" y2="439.89" stroke="#333" stroke-width="0.4"/>
<text class="tk" x="345.70" y="441.64">40</text>
<line x1="342.50" y1="423.76" x2="344.20" y2="423.76" stroke="#333" stroke-width="0.4"/>
<text class="tk" x="345.70" y="425.51">50</text>
<line x1="342.50" y1="407.63" x2="344.20" y2="407.63" stroke="#333" stroke-width="0.4"/>
<text class="tk" x="345.70" y="409.38">60</text>
<line x1="342.50" y1="391.50" x2="344.20" y2="391.50" stroke="#333" stroke-width="0.4"/>
<text class="tk" x="345.70" y="393.25">70</text>
</g>
<text class="cap" x="208.60" y="542.00" textLength="118.8" lengthAdjust="spacing">(<tspan class="b">h</tspan>) Class 1 at epoch 300</text>
<g class="t">
<rect x="379.30" y="378.60" width="125.8" height="125.8" fill="#43ac74"/>
<rect x="379.30" y="378.60" width="125.8" height="125.8" filter="url(#ni)"/>
<rect x="379.30" y="378.60" width="125.8" height="125.8" fill="none" stroke="#333" stroke-width="0.4"/>
<text class="ti" x="442.20" y="375.70">CGAN: Generated Images [class: 2]</text>
<line x1="379.43" y1="504.40" x2="379.43" y2="506.10" stroke="#333" stroke-width="0.4"/>
<text class="tk" text-anchor="middle" x="379.43" y="511.60">0</text>
<line x1="377.60" y1="378.73" x2="379.30" y2="378.73" stroke="#333" stroke-width="0.4"/>
<text class="tk" text-anchor="end" x="375.90" y="380.48">0</text>
<line x1="405.64" y1="504.40" x2="405.64" y2="506.10" stroke="#333" stroke-width="0.4"/>
<text class="tk" text-anchor="middle" x="405.64" y="511.60">100</text>
<line x1="377.60" y1="404.94" x2="379.30" y2="404.94" stroke="#333" stroke-width="0.4"/>
<text class="tk" text-anchor="end" x="375.90" y="406.69">100</text>
<line x1="431.85" y1="504.40" x2="431.85" y2="506.10" stroke="#333" stroke-width="0.4"/>
<text class="tk" text-anchor="middle" x="431.85" y="511.60">200</text>
<line x1="377.60" y1="431.15" x2="379.30" y2="431.15" stroke="#333" stroke-width="0.4"/>
<text class="tk" text-anchor="end" x="375.90" y="432.90">200</text>
<line x1="458.06" y1="504.40" x2="458.06" y2="506.10" stroke="#333" stroke-width="0.4"/>
<text class="tk" text-anchor="middle" x="458.06" y="511.60">300</text>
<line x1="377.60" y1="457.36" x2="379.30" y2="457.36" stroke="#333" stroke-width="0.4"/>
<text class="tk" text-anchor="end" x="375.90" y="459.11">300</text>
<line x1="484.26" y1="504.40" x2="484.26" y2="506.10" stroke="#333" stroke-width="0.4"/>
<text class="tk" text-anchor="middle" x="484.26" y="511.60">400</text>
<line x1="377.60" y1="483.56" x2="379.30" y2="483.56" stroke="#333" stroke-width="0.4"/>
<text class="tk" text-anchor="end" x="375.90" y="485.31">400</text>
<text class="tk" text-anchor="middle" x="442.20" y="518.00">X-axis (1km)</text>
<text class="tk" text-anchor="middle" transform="translate(363.70,441.50) rotate(-90)">Y-axis (1km)</text>
<rect x="513.40" y="378.60" width="6.3" height="125.8" fill="url(#vir)" stroke="#333" stroke-width="0.4"/>
<line x1="519.70" y1="504.40" x2="521.40" y2="504.40" stroke="#333" stroke-width="0.4"/>
<text class="tk" x="522.90" y="506.15">0</text>
<line x1="519.70" y1="488.27" x2="521.40" y2="488.27" stroke="#333" stroke-width="0.4"/>
<text class="tk" x="522.90" y="490.02">10</text>
<line x1="519.70" y1="472.14" x2="521.40" y2="472.14" stroke="#333" stroke-width="0.4"/>
<text class="tk" x="522.90" y="473.89">20</text>
<line x1="519.70" y1="456.02" x2="521.40" y2="456.02" stroke="#333" stroke-width="0.4"/>
<text class="tk" x="522.90" y="457.77">30</text>
<line x1="519.70" y1="439.89" x2="521.40" y2="439.89" stroke="#333" stroke-width="0.4"/>
<text class="tk" x="522.90" y="441.64">40</text>
<line x1="519.70" y1="423.76" x2="521.40" y2="423.76" stroke="#333" stroke-width="0.4"/>
<text class="tk" x="522.90" y="425.51">50</text>
<line x1="519.70" y1="407.63" x2="521.40" y2="407.63" stroke="#333" stroke-width="0.4"/>
<text class="tk" x="522.90" y="409.38">60</text>
<line x1="519.70" y1="391.50" x2="521.40" y2="391.50" stroke="#333" stroke-width="0.4"/>
<text class="tk" x="522.90" y="393.25">70</text>
</g>
<text class="cap" x="386.40" y="542.00" textLength="118.6" lengthAdjust="spacing">(<tspan class="b">i</tspan>) Class 2 at epoch 300</text>
</svg>
</body></html>
